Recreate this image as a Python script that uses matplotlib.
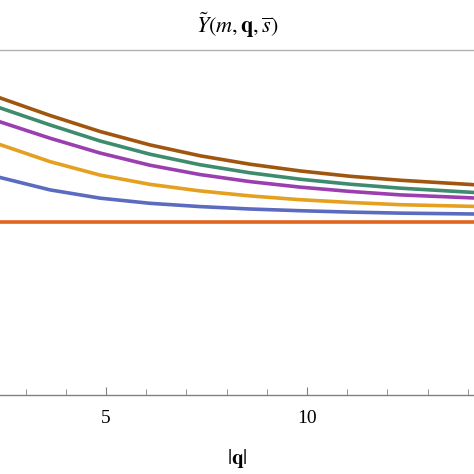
import matplotlib
matplotlib.use("Agg")
import matplotlib.pyplot as plt
from matplotlib.ticker import MultipleLocator

# values
q = [2.363, 3.607, 4.851, 6.095, 7.338, 8.582, 9.826, 11.07, 12.313, 14.154]
y_brown = [1.722, 1.620, 1.527, 1.449, 1.386, 1.337, 1.298, 1.267, 1.244, 1.218]
y_green = [1.664, 1.565, 1.472, 1.395, 1.334, 1.287, 1.250, 1.221, 1.198, 1.173]
y_purple = [1.583, 1.488, 1.402, 1.331, 1.277, 1.236, 1.204, 1.179, 1.159, 1.141]
y_yellow = [1.451, 1.352, 1.274, 1.220, 1.182, 1.153, 1.131, 1.115, 1.102, 1.092]
y_blue = [1.260, 1.188, 1.140, 1.110, 1.091, 1.077, 1.067, 1.059, 1.053, 1.048]
y_orange = [1.0] * len(q)

series = [
    (y_orange, '#E0651F'),
    (y_blue, '#5B6BBF'),
    (y_yellow, '#E5A020'),
    (y_purple, '#9B3FB0'),
    (y_green, '#3E8B6E'),
    (y_brown, '#A0560E'),
]

plt.rcParams['mathtext.fontset'] = 'stix'
plt.rcParams['font.family'] = 'Liberation Serif'

fig = plt.figure(figsize=(4.74, 4.74), dpi=100)
ax = fig.add_axes([0.0, 0.1677, 1.0, 0.7268])

for ys, c in series:
    ax.plot(q, ys, color=c, lw=2.6, solid_joinstyle='round')

ax.set_xlim(2.363, 14.154)
ax.set_ylim(0, 2.0)

ax.spines['left'].set_visible(False)
ax.spines['right'].set_visible(False)
ax.spines['top'].set_color('#b0b0b0')
ax.spines['bottom'].set_color('#808080')
ax.spines['top'].set_linewidth(1.0)
ax.spines['bottom'].set_linewidth(1.0)

ax.set_yticks([])
ax.xaxis.set_major_locator(MultipleLocator(5))
ax.xaxis.set_minor_locator(MultipleLocator(1))
ax.tick_params(axis='x', which='major', direction='in', length=6, width=0.8,
               color='#808080', pad=11, labelsize=14)
ax.tick_params(axis='x', which='minor', direction='in', length=4, width=0.6,
               color='#808080')

fig.text(0.5, 1 - 458 / 474, r'$|\mathbf{q}|$', ha='center', va='center', fontsize=15)
fig.text(0.5, 1 - 25 / 474, r'$\tilde{Y}(m,\mathbf{q},\overline{s})$',
         ha='center', va='center', fontsize=16)

fig.savefig('out.png', dpi=100)
